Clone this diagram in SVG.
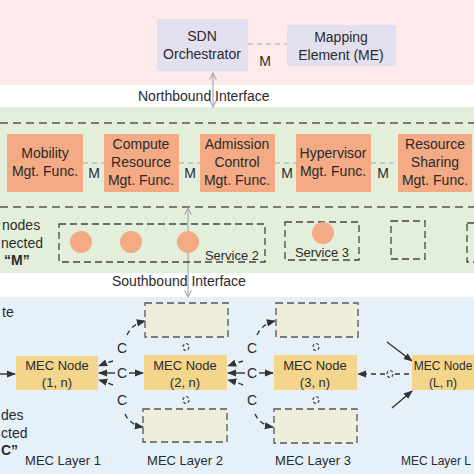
<svg xmlns="http://www.w3.org/2000/svg" width="474" height="474" viewBox="0 0 474 474">
<defs>
<style>
text{font-family:"Liberation Sans",Arial,sans-serif;fill:#2b2b2b;font-size:14px}
.c{text-anchor:middle}
.e{text-anchor:end}
.sm{font-size:13px}
.xs{font-size:12px}
.b{font-weight:bold}
.band{stroke:#555;stroke-width:1.3;stroke-dasharray:8 5;fill:none}
.svc{stroke:#444;stroke-width:1.3;stroke-dasharray:7 4;fill:none}
.fn{fill:#f4aa84}
.mec{fill:#f3d68b}
.ghost{fill:#efeedd;stroke:#555;stroke-width:1.3;stroke-dasharray:7 4}
.gl{stroke:#aaa;stroke-width:1.2;stroke-dasharray:5 4;fill:none}
.sol{stroke:#333;stroke-width:1.4;fill:none}
.dsh{stroke:#333;stroke-width:1.4;stroke-dasharray:5 4;fill:none}
.ring{stroke:#444;stroke-width:1.2;stroke-dasharray:3 2;fill:none}
.ifc{stroke:#aaa;stroke-width:1.2;fill:none}
</style>
<marker id="a" viewBox="0 0 10 10" refX="9" refY="5" markerWidth="6.5" markerHeight="6.5" orient="auto-start-reverse">
<path d="M0,1 L10,5 L0,9 z" fill="#333"/>
</marker>
<marker id="g" viewBox="0 0 10 10" refX="9" refY="5" markerWidth="7" markerHeight="7" orient="auto-start-reverse">
<path d="M1,1 L9,5 L1,9" fill="none" stroke="#aaa" stroke-width="1.3"/>
</marker>
</defs>
<!-- bands -->
<rect x="0" y="0" width="474" height="85" fill="#fcebea"/>
<rect x="0" y="85" width="474" height="22" fill="#ffffff"/>
<rect x="0" y="107" width="474" height="166" fill="#e3efda"/>
<rect x="0" y="273" width="474" height="24" fill="#ffffff"/>
<rect x="0" y="297" width="474" height="177" fill="#e5f0f9"/>
<line class="band" x1="0" y1="123" x2="474" y2="123"/>
<line class="band" x1="0" y1="207" x2="474" y2="207"/>

<g id="connectors">
<line class="gl" x1="248" y1="44" x2="287" y2="44"/>
<text x="265" y="66" class="c">M</text>
<line class="ifc" x1="213" y1="73" x2="213" y2="107" marker-start="url(#g)" marker-end="url(#g)"/>
<line class="ifc" x1="188" y1="208" x2="188" y2="297" marker-start="url(#g)" marker-end="url(#g)"/>
<line class="gl" x1="83" y1="163" x2="104" y2="163"/>
<line class="gl" x1="179" y1="163" x2="200" y2="163"/>
<line class="gl" x1="275" y1="163" x2="296" y2="163"/>
<line class="gl" x1="371" y1="163" x2="398" y2="163"/>
<text x="94" y="178" class="c">M</text>
<text x="190" y="178" class="c">M</text>
<text x="287" y="178" class="c">M</text>
<text x="383" y="178" class="c">M</text>
<!-- MEC -->
<line class="sol" x1="0" y1="374" x2="15" y2="374" marker-end="url(#a)"/>
<!-- layer1-2 -->
<line class="sol" x1="115" y1="373" x2="99" y2="373" marker-end="url(#a)"/>
<line class="sol" x1="129" y1="373" x2="143" y2="373" marker-end="url(#a)"/>
<text x="122" y="378" class="c">C</text>
<path class="dsh" d="M113 361 Q106 363 99 366" marker-end="url(#a)"/>
<path class="dsh" d="M127 335 Q132 324 145 321" marker-end="url(#a)"/>
<text x="122" y="353" class="c">C</text>
<path class="dsh" d="M113 385 Q106 382 99 380" marker-end="url(#a)"/>
<path class="dsh" d="M125 414 Q130 425 143 427" marker-end="url(#a)"/>
<text x="122" y="405" class="c">C</text>
<!-- layer2-3 -->
<line class="sol" x1="245" y1="373" x2="228" y2="373" marker-end="url(#a)"/>
<line class="sol" x1="259" y1="373" x2="273" y2="373" marker-end="url(#a)"/>
<text x="252" y="378" class="c">C</text>
<path class="dsh" d="M243 361 Q236 363 228 366" marker-end="url(#a)"/>
<path class="dsh" d="M257 335 Q262 324 275 321" marker-end="url(#a)"/>
<text x="252" y="353" class="c">C</text>
<path class="dsh" d="M243 385 Q236 382 228 380" marker-end="url(#a)"/>
<path class="dsh" d="M255 414 Q260 425 273 427" marker-end="url(#a)"/>
<text x="252" y="405" class="c">C</text>
<!-- layer3-L -->
<line class="dsh" x1="385" y1="374" x2="358" y2="374" marker-end="url(#a)"/>
<line class="dsh" x1="395" y1="374" x2="412" y2="374"/>
<ellipse class="ring" cx="390" cy="374" rx="3" ry="3.5"/>
<line class="sol" x1="387" y1="342" x2="412" y2="361" marker-end="url(#a)"/>
<line class="sol" x1="392" y1="408" x2="412" y2="391" marker-end="url(#a)"/>
<ellipse class="ring" cx="186" cy="347" rx="3" ry="3.5"/>
<ellipse class="ring" cx="186" cy="400" rx="3" ry="3.5"/>
<ellipse class="ring" cx="316" cy="347" rx="3" ry="3.5"/>
<ellipse class="ring" cx="316" cy="400" rx="3" ry="3.5"/>
</g>

<text x="138" y="101">Northbound Interface</text>
<text x="112" y="286">Southbound Interface</text>

<g id="sdn">
<rect x="157" y="19" width="91" height="52" fill="#e2e0ee"/>
<text x="202" y="41" class="c">SDN</text>
<text x="202" y="59" class="c">Orchestrator</text>
</g>
<g id="me">
<rect x="287" y="25" width="109" height="41" fill="#e2e0ee"/>
<text x="341" y="42" class="c">Mapping</text>
<text x="341" y="60" class="c">Element (ME)</text>
</g>

<g id="mobility">
<rect class="fn" x="7" y="134" width="76" height="58"/>
<text x="45" y="158" class="c">Mobility</text>
<text x="45" y="176" class="c">Mgt. Func.</text>
</g>
<g id="compute">
<rect class="fn" x="104" y="134" width="75" height="58"/>
<text x="141" y="149" class="c">Compute</text>
<text x="141" y="167" class="c">Resource</text>
<text x="141" y="185" class="c">Mgt. Func.</text>
</g>
<g id="admission">
<rect class="fn" x="200" y="134" width="75" height="58"/>
<text x="237" y="149" class="c">Admission</text>
<text x="237" y="167" class="c">Control</text>
<text x="237" y="185" class="c">Mgt. Func.</text>
</g>
<g id="hypervisor">
<rect class="fn" x="296" y="134" width="75" height="58"/>
<text x="333" y="158" class="c">Hypervisor</text>
<text x="333" y="176" class="c">Mgt. Func.</text>
</g>
<g id="sharing">
<rect class="fn" x="398" y="134" width="74" height="58"/>
<text x="435" y="149" class="c">Resource</text>
<text x="435" y="167" class="c">Sharing</text>
<text x="435" y="185" class="c">Mgt. Func.</text>
</g>

<g id="svc-label">
<text x="2" y="230">nodes</text>
<text x="1" y="248">nected</text>
<text x="4" y="265" class="b">“M”</text>
</g>
<g id="service2">
<rect class="svc" x="59" y="224" width="206" height="38"/>
<circle class="fn" cx="81" cy="242" r="11"/>
<circle class="fn" cx="131" cy="242" r="11"/>
<circle class="fn" cx="188" cy="242" r="11"/>
<text x="232" y="260" class="c sm">Service 2</text>
</g>
<g id="service3">
<rect class="svc" x="285" y="222" width="74" height="38"/>
<circle class="fn" cx="323" cy="233" r="11"/>
<text x="322" y="257" class="c sm">Service 3</text>
</g>
<g id="svc-empty1"><rect class="svc" x="391" y="221" width="34" height="38"/></g>
<g id="svc-empty2"><rect class="svc" x="467" y="223" width="20" height="39"/></g>

<g id="mec-label">
<text x="2" y="317">te</text>
<text x="1" y="420">des</text>
<text x="1" y="438">cted</text>
<text x="1" y="455" class="b">C”</text>
</g>
<g id="mec1">
<rect class="mec" x="16" y="356" width="82" height="34"/>
<text x="57" y="370" class="c sm">MEC Node</text>
<text x="57" y="387" class="c sm">(1, n)</text>
</g>
<g id="mec2">
<rect class="mec" x="144" y="355" width="83" height="35"/>
<text x="185" y="370" class="c sm">MEC Node</text>
<text x="185" y="387" class="c sm">(2, n)</text>
</g>
<g id="mec3">
<rect class="mec" x="274" y="355" width="83" height="35"/>
<text x="315" y="370" class="c sm">MEC Node</text>
<text x="315" y="387" class="c sm">(3, n)</text>
</g>
<g id="mecL">
<rect class="mec" x="412" y="355" width="70" height="35"/>
<text x="443" y="370" class="c xs">MEC Node</text>
<text x="443" y="387" class="c xs">(L, n)</text>
</g>
<g id="ghost2t"><rect class="ghost" x="145" y="303" width="83" height="34"/></g>
<g id="ghost2b"><rect class="ghost" x="143" y="409" width="84" height="33"/></g>
<g id="ghost3t"><rect class="ghost" x="276" y="303" width="82" height="34"/></g>
<g id="ghost3b"><rect class="ghost" x="274" y="409" width="83" height="34"/></g>

<text x="63" y="465" class="c sm">MEC Layer 1</text>
<text x="185" y="465" class="c sm">MEC Layer 2</text>
<text x="313" y="465" class="c sm">MEC Layer 3</text>
<text x="401" y="465" class="xs">MEC Layer L</text>
</svg>
